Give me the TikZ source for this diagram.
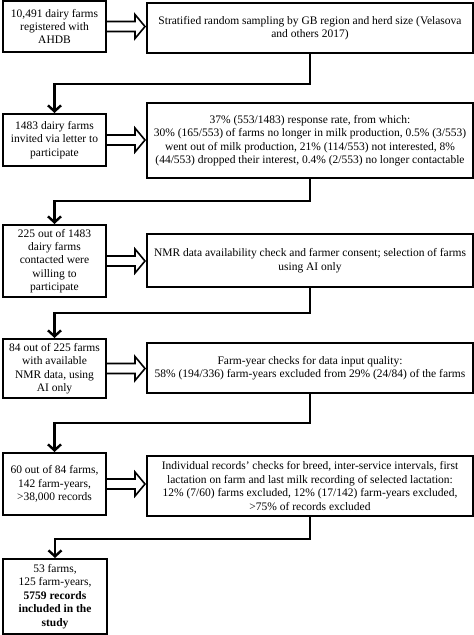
\documentclass[tikz,border=0pt]{standalone}
\usepackage{fontspec}
\setmainfont{Liberation Serif}
\usetikzlibrary{calc,arrows.meta}
\begin{document}
\begin{tikzpicture}[x=1pt,y=-1pt,
  box/.style={draw,line width=2pt,align=center,inner sep=0pt,
    font=\fontsize{11.5}{13.4}\selectfont},
  lbox/.style={box,minimum width=103pt},
  rbox/.style={box,minimum width=326pt},
  conn/.style={line width=2.4pt,-{Straight Barb[length=6pt,width=13pt,line width=2.4pt]}},
  hollow/.style={line width=1.6pt,line join=miter}]
\useasboundingbox (0,0) rectangle (474,635);
\node[lbox,minimum height=51pt] (b1) at (54.5,26.5) {10,491 dairy farms\\registered with\\AHDB};
\node[rbox,minimum height=50pt] (b2) at (310,28) {Stratified random sampling by GB region and herd size (Velasova\\and others 2017)};
\node[lbox,minimum height=52pt] (b3) at (54.5,140) {1483 dairy farms\\invited via letter to\\participate};
\node[rbox,minimum height=75pt] (b4) at (310,140.5) {37\% (553/1483) response rate, from which:\\30\% (165/553) of farms no longer in milk production, 0.5\% (3/553)\\went out of milk production, 21\% (114/553) not interested, 8\%\\(44/553) dropped their interest, 0.4\% (2/553) no longer contactable};
\node[lbox,minimum height=72pt] (b5) at (54.5,261) {225 out of 1483\\dairy farms\\contacted were\\willing to\\participate};
\node[rbox,minimum height=53pt] (b6) at (310,260.5) {NMR data availability check and farmer consent; selection of farms\\using AI only};
\node[lbox,minimum height=59pt] (b7) at (54.5,368.5) {84 out of 225 farms\\with available\\NMR data, using\\AI only};
\node[rbox,minimum height=50pt] (b8) at (310,368) {Farm-year checks for data input quality:\\58\% (194/336) farm-years excluded from 29\% (24/84) of the farms};
\node[lbox,minimum height=62pt] (b9) at (54.5,484) {60 out of 84 farms,\\142 farm-years,\\>38,000 records};
\node[rbox,minimum height=60pt] (b10) at (310,486) {Individual records' checks for breed, inter-service intervals, first\\lactation on farm and last milk recording of selected lactation:\\12\% (7/60) farms excluded, 12\% (17/142) farm-years excluded,\\>75\% of records excluded};
\node[lbox,minimum height=75pt,minimum width=104pt] (b11) at (55,596.5) {53 farms,\\125 farm-years,\\\textbf{5759 records}\\\textbf{included in the}\\\textbf{study}};
% hollow arrows
\foreach \l/\r in {b1/b2,b3/b4,b5/b6,b7/b8,b9/b10}{
  \draw[hollow] let \p1=(\l.east), \p2=(\r.west) in
    (\x1,\y1+5pt) -- (\x2-11pt,\y1+5pt) -- (\x2-11pt,\y1+12pt) -- (\x2-1pt,\y1)
    -- (\x2-11pt,\y1-12pt) -- (\x2-11pt,\y1-5pt) -- (\x1,\y1-5pt);
}
% connectors
\coordinate (m1) at (0,84);
\coordinate (m2) at (0,201);
\coordinate (m3) at (0,313);
\coordinate (m4) at (0,423);
\coordinate (m5) at (0,539);
\draw[conn] (b2.south) -- (b2.south |- m1) -- (b3.north |- m1) -- (b3.north);
\draw[conn] (b4.south) -- (b4.south |- m2) -- (b5.north |- m2) -- (b5.north);
\draw[conn] (b6.south) -- (b6.south |- m3) -- (b7.north |- m3) -- (b7.north);
\draw[conn] (b8.south) -- (b8.south |- m4) -- (b9.north |- m4) -- (b9.north);
\draw[conn] (b10.south) -- (b10.south |- m5) -- (b11.north |- m5) -- (b11.north);
\end{tikzpicture}
\end{document}
